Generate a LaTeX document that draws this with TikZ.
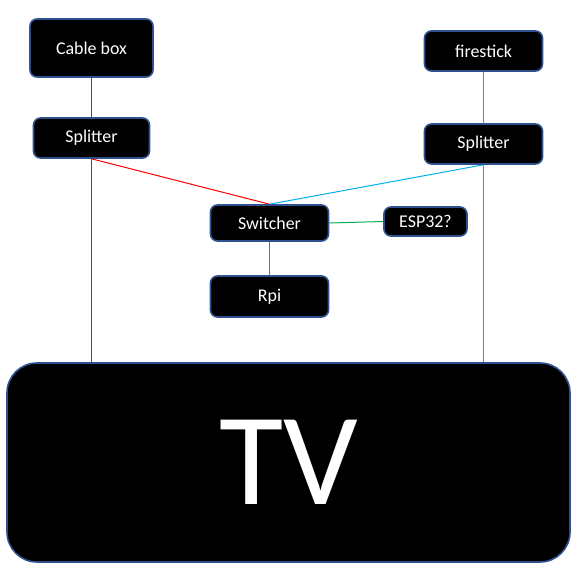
\documentclass[tikz,border=0pt]{standalone}
\usepackage{fontspec}
\setmainfont{Carlito}
\usetikzlibrary{calc, backgrounds}
\definecolor{boxline}{RGB}{47,82,143}
\definecolor{cablered}{RGB}{255,0,0}
\definecolor{firecyan}{RGB}{0,176,240}
\definecolor{ctrlgreen}{RGB}{0,176,80}
\begin{document}
\begin{tikzpicture}[x=1bp, y=-1bp,
  box/.style={draw=boxline, line width=1.6bp, fill=black, text=white, rounded corners=7bp, inner sep=0pt, font=\fontsize{18}{21}\selectfont},
  link/.style={line width=1bp}]
\useasboundingbox (0,0) rectangle (584,578);
\node[box, minimum width=123bp, minimum height=58bp] (cable) at (91.5,48) {Cable box};
\node[box, minimum width=116bp, minimum height=40bp] (splitL) at (91.5,138) {Splitter};
\node[box, minimum width=118bp, minimum height=40bp] (fire) at (483.5,51) {firestick};
\node[box, minimum width=118bp, minimum height=40bp] (splitR) at (483.5,144) {Splitter};
\node[box, minimum width=118bp, minimum height=36bp] (switch) at (269.5,223) {Switcher};
\node[box, minimum width=83bp, minimum height=29bp] (esp) at (425.5,221.5) {ESP32?};
\node[box, minimum width=118bp, minimum height=41bp] (rpi) at (269.5,296.5) {Rpi};
\node[box, rounded corners=30bp, minimum width=563bp, minimum height=199bp, font=\fontsize{132}{140}\selectfont] (tv) at (288.5,462.5) {TV};
\begin{pgfonlayer}{background}
\draw[link, cablered] (cable.south) -- (splitL.north);
\draw[link, cablered] (splitL.south) -- (switch.north);
\draw[link, cablered] (splitL.south) -- (splitL.south |- tv.north);
\draw[link, firecyan] (fire.south) -- (splitR.north);
\draw[link, firecyan] (splitR.south) -- (switch.north);
\draw[link, firecyan] (splitR.south) -- ($(splitR.south |- tv.north)+(0,3)$);
\draw[link, ctrlgreen] (switch.east) -- (esp.west);
\draw[link, ctrlgreen] (switch.south) -- (rpi.north);
\end{pgfonlayer}
\end{tikzpicture}
\end{document}
